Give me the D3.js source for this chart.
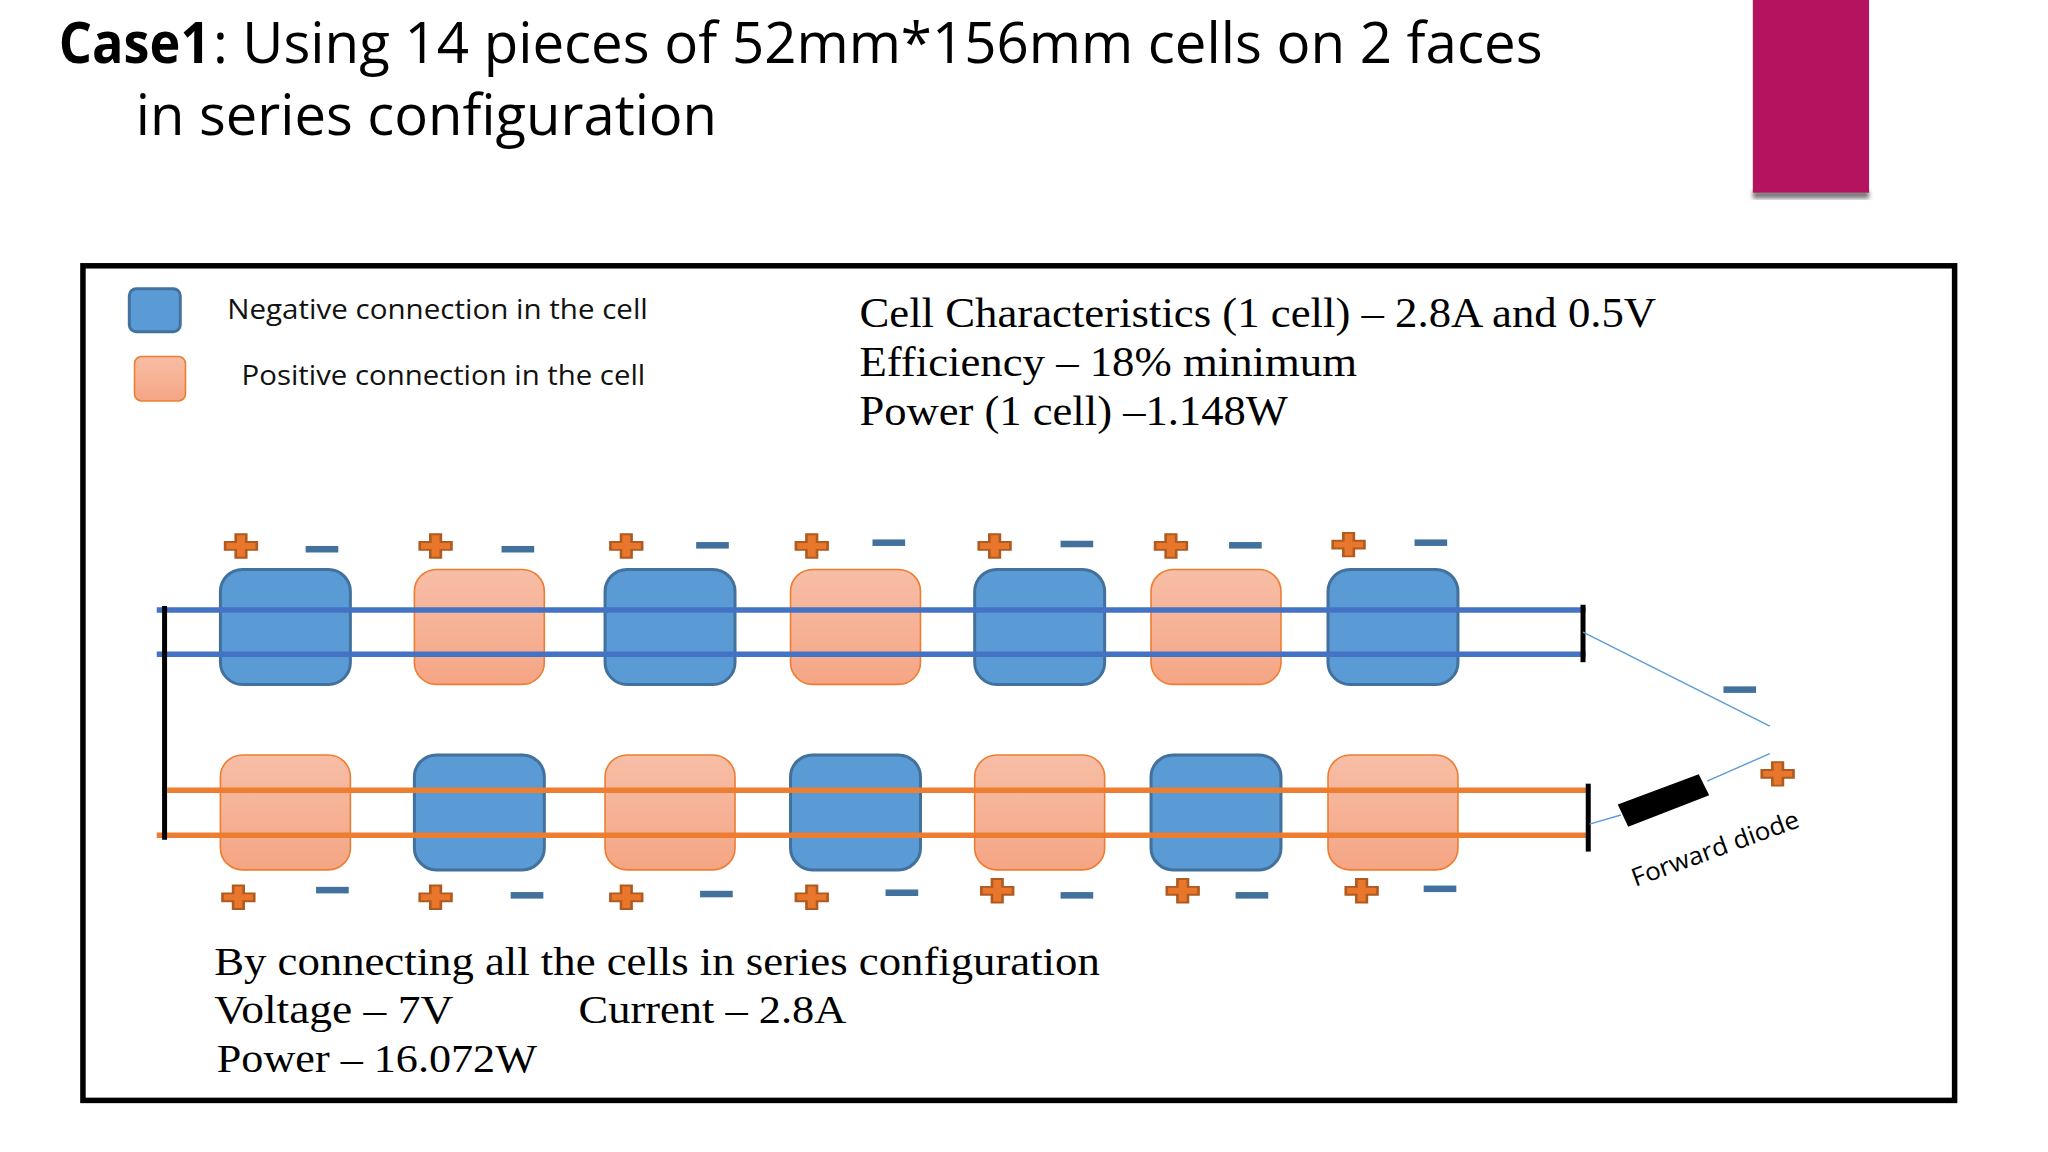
<!DOCTYPE html>
<html>
<head>
<meta charset="utf-8">
<style>
  html, body { margin: 0; padding: 0; background: #fff; }
  svg { display: block; }
</style>
<script src="https://cdn.jsdelivr.net/npm/d3@7"></script>
</head>
<body>
<div id="canvas"></div>
<script>
// values, in picture units (1568 x 882 view)
const cellCentres = [218.5, 367, 513, 655, 796, 931, 1066.5];
const topRowTypes = ["neg", "pos", "neg", "pos", "neg", "pos", "neg"];
const bottomRowTypes = ["pos", "neg", "pos", "neg", "pos", "neg", "pos"];

const plusTopX = [184, 333, 479, 621, 761, 896, 1032];
const plusTopY = [418, 418, 418, 418, 418, 418, 417];
const minusTopX = [246, 396, 545, 680, 824, 953, 1095];
const minusTopY = [420, 420, 417, 415, 416, 417, 415];
const plusBottomX = [182, 333, 479, 621, 763, 905, 1042];
const plusBottomY = [687, 687, 687, 687, 682, 682, 682];
const minusBottomX = [254, 403, 548, 690, 824, 958, 1102];
const minusBottomY = [681, 685, 684, 683, 685, 685, 680];

const legendLabels = ["Negative connection in the cell", "Positive connection in the cell"];
const specLines = ["Cell Characteristics (1 cell) – 2.8A and 0.5V", "Efficiency – 18% minimum", "Power (1 cell) –1.148W"];
const resultLines = ["By connecting all the cells in series configuration", "Voltage – 7V", "Current – 2.8A", "Power – 16.072W"];

const width = 2048;
const height = 1152;
const x = d3.scaleLinear().domain([0, 1568]).range([0, width]);
const y = d3.scaleLinear().domain([0, 882]).range([0, height]);
const w = v => x(v) - x(0);
const h = v => y(v) - y(0);

const blue = "#5b9bd5", blueEdge = "#41719c", wireBlue = "#4472c4";
const orange = "#ed7d31", plusEdge = "#ae5a21";
const sansFont = "'Open Sans', 'Noto Sans', sans-serif";
const serifFont = "'Liberation Serif', serif";

const svg = d3.select("#canvas").append("svg")
    .attr("width", width)
    .attr("height", height);

const defs = svg.append("defs");
const grad = defs.append("linearGradient")
    .attr("id", "posFill")
    .attr("x1", 0).attr("y1", 0).attr("x2", 0).attr("y2", 1);
grad.append("stop").attr("offset", "0%").attr("stop-color", "#f7bea6");
grad.append("stop").attr("offset", "100%").attr("stop-color", "#f5a584");
defs.append("filter").attr("id", "soft")
    .append("feGaussianBlur").attr("stdDeviation", 2);

svg.append("rect").attr("width", width).attr("height", height).attr("fill", "#fff");

// corner tab
svg.append("rect")
    .attr("x", x(1342)).attr("y", y(146))
    .attr("width", w(89)).attr("height", h(6))
    .attr("fill", "#777")
    .attr("filter", "url(#soft)");
svg.append("rect")
    .attr("x", x(1342)).attr("y", 0)
    .attr("width", w(89)).attr("height", y(147.5))
    .attr("fill", "#b5125f");

// text helper, width comes from the picture
function label(g, str, x0, x1, base, size, family, weight) {
    return g.append("text")
        .attr("x", x(x0))
        .attr("y", y(base))
        .attr("font-family", family)
        .attr("font-size", size)
        .attr("font-weight", weight || 400)
        .attr("textLength", w(x1 - x0))
        .attr("lengthAdjust", "spacingAndGlyphs")
        .attr("fill", "#000")
        .text(str);
}

// title
label(svg, "Case1", 45, 161, 48.5, 57, sansFont, 700);
label(svg, ": Using 14 pieces of 52mm*156mm cells on 2 faces", 163, 1181, 48.5, 56, sansFont);
label(svg, "in series configuration", 104, 549, 103.5, 56, sansFont);

// frame
svg.append("rect")
    .attr("x", x(63.5)).attr("y", y(203.5))
    .attr("width", w(1433)).attr("height", h(639))
    .attr("fill", "none")
    .attr("stroke", "#000")
    .attr("stroke-width", 5.5);

// legend
function cell(g, cx, top, bottom, cw, type, r) {
    g.append("rect")
        .attr("x", x(cx - cw / 2)).attr("y", y(top))
        .attr("width", w(cw)).attr("height", y(bottom) - y(top))
        .attr("rx", r).attr("ry", r)
        .attr("fill", type === "neg" ? blue : "url(#posFill)")
        .attr("stroke", type === "neg" ? blueEdge : orange)
        .attr("stroke-width", type === "neg" ? 3 : 1.6);
}
cell(svg, 118.5, 221, 254, 39, "neg", 7);
cell(svg, 122.5, 273, 307, 39, "pos", 7);
label(svg, legendLabels[0], 174, 496, 244, 27, sansFont).attr("fill", "#111");
label(svg, legendLabels[1], 185, 494, 295, 27, sansFont).attr("fill", "#111");

// cell characteristics
label(svg, specLines[0], 658, 1268, 250, 42, serifFont);
label(svg, specLines[1], 658, 1039, 287.5, 42, serifFont);
label(svg, specLines[2], 658, 986, 325.5, 42, serifFont);

// cells
const cells = svg.append("g");
cellCentres.forEach((c, i) => {
    cell(cells, c, 436, 524, 99.5, topRowTypes[i], 22);
    cell(cells, c, 578, 666, 99.5, bottomRowTypes[i], 22);
});

// wires
function wire(x1, y1, x2, y2, color, sw) {
    svg.append("line")
        .attr("x1", x(x1)).attr("y1", y(y1))
        .attr("x2", x(x2)).attr("y2", y(y2))
        .attr("stroke", color)
        .attr("stroke-width", sw);
}
wire(120, 467, 1214, 467, wireBlue, 5.5);
wire(120, 501, 1214, 501, wireBlue, 5.5);
wire(128, 605, 1216, 605, orange, 5.5);
wire(120, 639.5, 1216, 639.5, orange, 5.5);
wire(126, 464, 126, 643, "#000", 5);
wire(1212, 463, 1212, 507, "#000", 5);
wire(1216, 600, 1216, 652, "#000", 5);
wire(1212, 484, 1355, 556, blue, 1.4);
wire(1217, 631, 1241, 624, blue, 1.4);
wire(1307, 598, 1355, 577, blue, 1.4);

// diode
const diodePts = [[1238.6, 616], [1300.6, 592.7], [1308.6, 608.8], [1246.6, 633]];
svg.append("polygon")
    .attr("points", diodePts.map(p => x(p[0]) + "," + y(p[1])).join(" "))
    .attr("fill", "#000");

svg.append("text")
    .attr("transform", `translate(${x(1252)},${y(679)}) rotate(-20)`)
    .attr("font-family", sansFont)
    .attr("font-size", 25)
    .attr("textLength", w(135))
    .attr("lengthAdjust", "spacingAndGlyphs")
    .attr("fill", "#000")
    .text("Forward diode");

// plus and minus marks
const cross = d3.symbol(d3.symbolCross).size(560);
function plus(px, py) {
    svg.append("path")
        .attr("d", cross())
        .attr("transform", `translate(${x(px)},${y(py)}) scale(1,0.74)`)
        .attr("fill", "#e8762b")
        .attr("stroke", plusEdge)
        .attr("stroke-width", 2.6);
}
function minus(px, py) {
    svg.append("rect")
        .attr("x", x(px - 12.5)).attr("y", y(py - 2.5))
        .attr("width", w(25)).attr("height", h(5))
        .attr("fill", blueEdge);
}
plusTopX.forEach((v, i) => plus(v + 0.5, plusTopY[i]));
minusTopX.forEach((v, i) => minus(v + 0.5, minusTopY[i] + 0.5));
plusBottomX.forEach((v, i) => plus(v + 0.5, plusBottomY[i]));
minusBottomX.forEach((v, i) => minus(v + 0.5, minusBottomY[i] + 0.5));
minus(1332, 528);
plus(1361, 592.5);

// result text
label(svg, resultLines[0], 164, 842, 746.5, 40, serifFont);
label(svg, resultLines[1], 164, 347, 783.5, 40, serifFont);
label(svg, resultLines[2], 443, 648, 783.5, 40, serifFont);
label(svg, resultLines[3], 166, 411, 820.5, 40, serifFont);
</script>
</body>
</html>
